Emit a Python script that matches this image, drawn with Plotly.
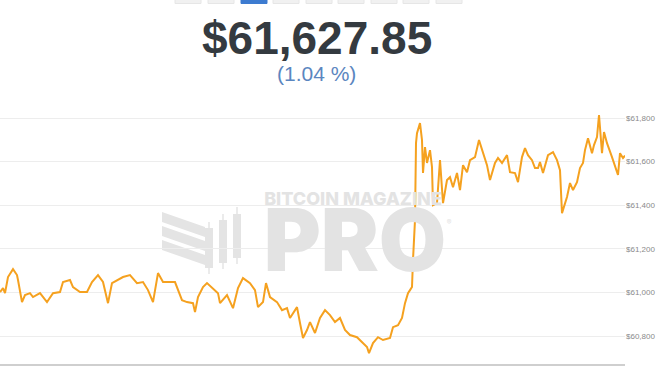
import plotly.graph_objects as go

# ---- data ----
minutes = [0,6,10,16,26,34,36,44,50,60,
           66,80,94,106,120,126,140,146,160,174,
           184,196,206,216,224,234,246,260,274,286,
           296,306,316,326,340,350,364,374,386,390,
           396,406,414,426,436,440,454,466,476,486,
           500,510,516,526,532,540,554,564,574,580,
           594,600,606,614,620,630,640,650,660,670,
           680,690,700,714,724,734,738,746,756,766,
           780,786,796,804,810,816,820,824,826,830,
           832,834,840,844,846,850,854,860,864,866,
           874,880,886,894,900,906,914,920,926,934,
           940,950,958,966,974,980,990,996,1004,1014,
           1020,1030,1036,1044,1050,1056,1064,1070,1076,1080,
           1086,1096,1106,1114,1120,1124,1134,1140,1146,1154,
           1160,1166,1170,1176,1184,1188,1194,1198,1204,1208,
           1214,1224,1230,1236,1240,1246,1250]
prices = [61002,61020,60997,61071,61107,61080,61057,60956,60988,60997,
          60979,60997,60956,60997,61002,61048,61057,61025,61002,61002,
          61048,61080,61048,60951,61043,61057,61071,61080,61043,61048,
          61011,60956,61089,61048,61048,61048,60965,60956,60951,60910,
          60979,61025,61043,61016,60997,60951,60988,60928,61020,61066,
          61043,61011,60933,60956,61043,60979,60956,60919,60928,60883,
          60933,60860,60791,60828,60864,60814,60883,60919,60896,60864,
          60883,60828,60805,60795,60773,60750,60722,60768,60795,60782,
          60791,60841,60850,60883,60951,60997,61011,61025,61149,61332,
          61685,61731,61777,61699,61548,61667,61594,61653,61575,61401,
          61410,61607,61410,61516,61529,61483,61548,61470,61584,61552,
          61607,61621,61699,61639,61584,61516,61594,61617,61594,61630,
          61552,61548,61506,61621,61662,61630,61607,61571,61571,61598,
          61548,61630,61644,61607,61561,61364,61438,61502,61470,61506,
          61571,61594,61653,61708,61639,61676,61713,61814,61639,61736,
          61685,61621,61584,61539,61639,61617,61628]
y_ticks = [60800, 61000, 61200, 61400, 61600, 61800]
price_label = "$61,627.85"
change_label = "(1.04 %)"
watermark_texts = ["BITCOIN MAGAZINE", "PRO", "®"]

# ---- layout geometry (pixels) ----
W, H = 662, 372
PL, PR, PT, PB = 0, 625, 105, 364


def px(x):
    return (x - PL) / (PR - PL)


def py(y):
    return (PB - y) / (PB - PT)


fig = go.Figure()

# watermark text (drawn first so the price line sits on top), on an invisible overlay axis
wm_font = "Inter, Liberation Sans, Arial"
for txt, cx, cy, size, wt in [(watermark_texts[0], 353, 200, 18, 800),
                              (watermark_texts[1], 355, 249, 87, 900),
                              (watermark_texts[2], 449, 223, 7, 400)]:
    fig.add_trace(go.Scatter(x=[px(cx)], y=[py(cy)], xaxis="x2", yaxis="y2",
                             mode="text", text=[txt],
                             textposition="middle center",
                             textfont=dict(family=wm_font, size=size, color="#E3E3E3", weight=wt),
                             hoverinfo="skip", showlegend=False))

fig.add_trace(go.Scatter(x=minutes, y=prices, mode="lines",
                         line=dict(color="#F5A11F", width=2),
                         hoverinfo="skip", showlegend=False))

shapes = []
wm = "#E4E4E4"
# logo stripes
for off in (0, 14, 28):
    x0, x1 = 162, 205
    shapes.append(dict(type="path", xref="paper", yref="paper", layer="below",
                       path=f"M {px(x0)} {py(212+off)} L {px(x1)} {py(227+off)} L {px(x1)} {py(237+off)} L {px(x0)} {py(222+off)} Z",
                       fillcolor=wm, line=dict(width=0)))
# logo candles: (x0, x1, body top, body bottom, wick top, wick bottom)
for (a, b, t, bt, wt, wb) in [(205, 213, 228, 268, 222, 274), (219, 227, 220, 263, 214, 269), (233, 241, 214, 258, 207, 264)]:
    shapes.append(dict(type="rect", xref="paper", yref="paper", layer="below",
                       x0=px(a), x1=px(b), y0=py(bt), y1=py(t), fillcolor=wm, line=dict(width=0)))
    c = (a + b) / 2
    shapes.append(dict(type="line", xref="paper", yref="paper", layer="below",
                       x0=px(c), x1=px(c), y0=py(wb), y1=py(wt), line=dict(color=wm, width=1.5)))

# top range buttons (cut off by page top)
btn_x = [175, 208, 241, 273, 306, 338, 371, 403, 436]
for i, bx in enumerate(btn_x):
    sel = (i == 2)
    shapes.append(dict(type="rect", xref="paper", yref="paper", layer="above",
                       x0=px(bx), x1=px(bx + 26), y0=py(3.5), y1=py(-6),
                       fillcolor="#3D7BD0" if sel else "#F1F1F1",
                       line=dict(color="#3D7BD0" if sel else "#E6E6E6", width=1)))

annotations = [
    dict(text=f"<b>{price_label}</b>", xref="paper", yref="paper",
         x=px(317), y=py(38), xanchor="center", yanchor="middle", showarrow=False,
         font=dict(family="Liberation Sans, Arial", size=46, color="#343A40")),
    dict(text=change_label, xref="paper", yref="paper",
         x=px(316), y=py(73), xanchor="center", yanchor="middle", showarrow=False,
         font=dict(family="Liberation Sans, Arial", size=21, color="#5B86C0")),
]

fig.update_layout(
    width=W, height=H,
    margin=dict(l=PL, r=W - PR, t=PT, b=H - PB),
    paper_bgcolor="white", plot_bgcolor="white",
    shapes=shapes, annotations=annotations,
    xaxis=dict(range=[0, 1250], showgrid=False, zeroline=False, showticklabels=False,
               showline=True, linecolor="#CFCFCF", linewidth=1.5, fixedrange=True),
    yaxis=dict(range=[60672, 61860], side="right", tickmode="array", tickvals=y_ticks,
               ticktext=[f"${v:,}" for v in y_ticks], showgrid=True, gridcolor="#EDEDED",
               gridwidth=1, zeroline=False, showline=False,
               tickfont=dict(family="Liberation Sans, Arial", size=8, color="#8A8A8A"),
               fixedrange=True),
    xaxis2=dict(range=[0, 1], overlaying="x", visible=False, fixedrange=True),
    yaxis2=dict(range=[0, 1], overlaying="y", visible=False, fixedrange=True),
)

fig.write_html("out.html", config={"displayModeBar": False})
